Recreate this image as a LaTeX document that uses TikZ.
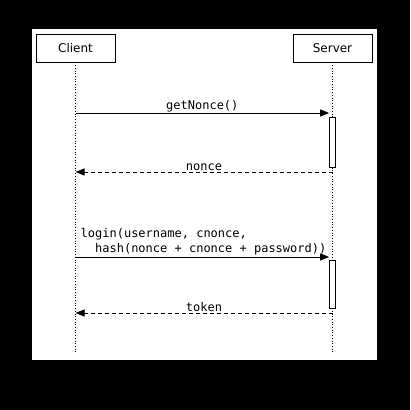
\documentclass[tikz,border=0pt]{standalone}
\usepackage{fontspec}
\setmainfont{DejaVu Sans}
\setmonofont{DejaVu Sans Mono}
\usetikzlibrary{arrows.meta}

\begin{document}
\begin{tikzpicture}[x=1pt, y=-1pt, >={Triangle[length=9pt,width=7pt]}]
  \tikzstyle{actor}=[draw, line width=0.8pt, minimum width=79pt, minimum height=28pt, inner sep=0pt, font=\fontsize{12}{14}\selectfont]
  \tikzstyle{act}=[draw, fill=white, line width=0.7pt, minimum width=6pt, inner sep=0pt, anchor=north]
  \tikzstyle{life}=[dotted, line width=0.7pt]
  \tikzstyle{msg}=[->, line width=0.8pt]
  \tikzstyle{ret}=[->, line width=0.8pt, dash pattern=on 4pt off 3pt]
  \tikzstyle{lbl}=[font=\ttfamily\fontsize{12}{15}\selectfont, inner sep=1pt]

  % frame
  \fill[black] (0,0) rectangle (410,410);
  \fill[white] (32,29) rectangle (377,360);

  \node[actor] (client) at (75.5,48) {Client};
  \node[actor] (server) at (332.5,48) {Server};

  \coordinate (bottom) at (0,353);
  \coordinate (m1) at (0,113);
  \coordinate (m2) at (0,172);
  \coordinate (m3) at (0,257);
  \coordinate (m4) at (0,313);

  \draw[life] (client.south) -- (client |- bottom);
  \draw[life] (server.south) -- (server |- bottom);

  \node[act, minimum height=50pt] (act1) at (server |- 0,117) {};
  \node[act, minimum height=48pt] (act2) at (server |- 0,260) {};

  \draw[msg] (client |- m1) -- (act1.north west |- m1)
    node[lbl, midway, above] (getnonce) {getNonce()};
  \draw[ret] (server |- m2) -- (client |- m2)
    node[lbl, midway, above] (nonce) {nonce};
  \draw[msg] (client |- m3) -- (act2.north west |- m3);
  \node[lbl, align=left, anchor=south west] (login) at ([xshift=4pt,yshift=1pt]client |- m3)
    {login(username, cnonce,\\\phantom{hh}hash(nonce + cnonce + password))};
  \draw[ret] (server |- m4) -- (client |- m4)
    node[lbl, midway, above] (token) {token};
\end{tikzpicture}
\end{document}
